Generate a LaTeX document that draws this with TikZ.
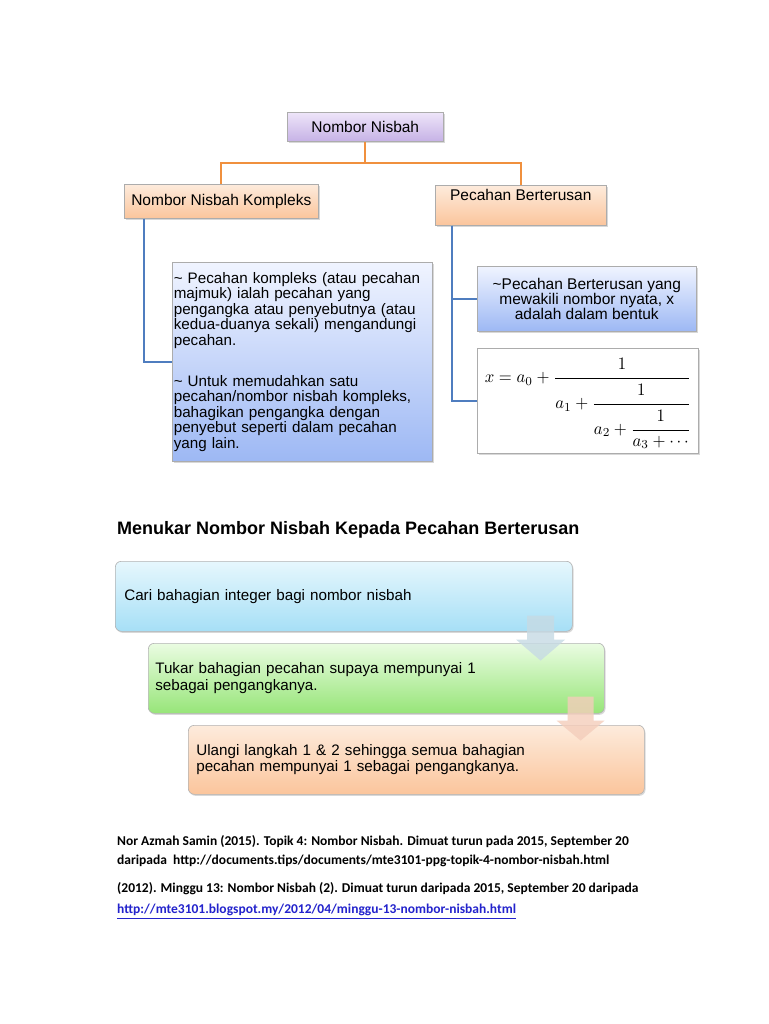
\documentclass[tikz,border=0pt]{standalone}
\usepackage{fontspec}
\usepackage{amsmath}
\usepackage{graphicx}
\setmainfont{Liberation Sans}
\newfontfamily\calib{Carlito}
\usetikzlibrary{shadows,calc}
\definecolor{purtop}{HTML}{EEE5F9}
\definecolor{purbot}{HTML}{C6B2E6}
\definecolor{ortop}{HTML}{FDEBDC}
\definecolor{orbot}{HTML}{FBC59C}
\definecolor{bltop}{HTML}{F0F4FF}
\definecolor{blbot}{HTML}{9DB8F4}
\definecolor{cytop}{HTML}{E6F7FD}
\definecolor{cybot}{HTML}{A6DFF6}
\definecolor{grtop}{HTML}{EAFCE2}
\definecolor{grbot}{HTML}{97E579}
\definecolor{lineor}{HTML}{F0903E}
\definecolor{linebl}{HTML}{4F7DBF}
\definecolor{arrbl}{HTML}{C6DAE4}
\definecolor{arror}{HTML}{F4CDBB}
\definecolor{linkbl}{HTML}{2323CC}
\begin{document}
\begin{tikzpicture}[x=1pt,y=-1pt,
  box/.style={draw=gray!65, line width=0.6pt, inner sep=0pt, anchor=north west,
    font=\fontsize{15.5}{17}\selectfont,
    drop shadow={shadow xshift=1.2pt, shadow yshift=-1.5pt, opacity=0.3}},
  purp/.style={top color=purtop, bottom color=purbot},
  orng/.style={top color=ortop, bottom color=orbot},
  blu/.style={top color=bltop, bottom color=blbot},
  stepbox/.style={draw=gray!60, line width=0.6pt, rounded corners=6pt, anchor=north west,
    inner ysep=0pt, align=left, font=\fontsize{15.2}{16.5}\selectfont,
    drop shadow={shadow xshift=1.2pt, shadow yshift=-1.5pt, opacity=0.3}},
  oline/.style={draw=lineor, line width=2pt},
  bline/.style={draw=linebl, line width=2pt},
  ref/.style={anchor=west, align=left, inner sep=0pt, font=\calib\bfseries\fontsize{13.5}{19}\selectfont}
]
\useasboundingbox[fill=white] (0,0) rectangle (768,1024);

% top tree
\node[box, purp, minimum width=156pt, minimum height=29pt] (nn) at (287,112) {Nombor Nisbah};
\node[box, orng, minimum width=194pt, minimum height=34pt] (nk) at (124,184) {Nombor Nisbah Kompleks};
\node[box, orng, minimum width=171pt, minimum height=40pt, text height=11pt, text depth=20pt] (pb) at (435,185) {Pecahan Berterusan};

\node[box, blu, minimum width=260pt, minimum height=199pt, text width=257pt, inner xsep=1.5pt, align=left,
  font=\fontsize{15.2}{15.5}\selectfont] (lt) at (172,262)
 {\textasciitilde{} Pecahan kompleks (atau pecahan\\ majmuk) ialah pecahan yang\\ pengangka atau penyebutnya (atau\\ kedua-duanya sekali) mengandungi\\ pecahan.\\[25.5pt]
  \textasciitilde{} Untuk memudahkan satu\\ pecahan/nombor nisbah kompleks,\\ bahagikan pengangka dengan\\ penyebut seperti dalam pecahan\\ yang lain.};

\node[box, blu, minimum width=219pt, minimum height=65pt, align=center,
  font=\fontsize{15.5}{15}\selectfont] (rt) at (477,266)
 {\textasciitilde Pecahan Berterusan yang\\ mewakili nombor nyata, x\\ adalah dalam bentuk};

\node[box, fill=white, minimum width=221pt, minimum height=105pt] (fm) at (477,348) {};
\node[inner sep=0pt] (eq) at ($(fm.center)+(-1,1)$)
 {\resizebox*{204pt}{94pt}{$x=a_0+\cfrac{1}{a_1+\cfrac{1}{a_2+\cfrac{1}{a_3+\dotsb}}}$}};

% connectors
\coordinate (j) at ($(nn.south)+(0,21)$);
\draw[oline] (nn.south) -- (j);
\draw[oline] (nk.north) |- (j) -| (pb.north);
\draw[bline] ($(nk.south west)+(20,0)$) |- (lt.west);
\draw[bline] ($(pb.south west)+(17,0)$) |- (fm.west);
\draw[bline] ($(pb.south west)+(17,0)$) |- (rt.west);

% heading
\node[anchor=west, inner sep=0pt, font=\bfseries\fontsize{18}{20}\selectfont] (hd) at (117,530)
 {Menukar Nombor Nisbah Kepada Pecahan Berterusan};

% steps
\node[stepbox, top color=cytop, bottom color=cybot, minimum height=70pt, inner xsep=9pt, text width=439pt] (s1) at (115,561)
 {Cari bahagian integer bagi nombor nisbah};
\node[stepbox, top color=grtop, bottom color=grbot, minimum height=70pt, inner xsep=7pt, text width=442pt] (s2) at (148,643)
 {Tukar bahagian pecahan supaya mempunyai 1\\ sebagai pengangkanya.};
\node[stepbox, orng, minimum height=69pt, inner xsep=8pt, text width=440pt] (s3) at (188,725)
 {Ulangi langkah 1 \& 2 sehingga semua bahagian\\ pecahan mempunyai 1 sebagai pengangkanya.};

% arrows between steps
\fill[arrbl, opacity=0.8] ($(s1.south east)+(-32,-16)$) ++(-13.5,0) -- ++(27,0) -- ++(0,24) -- ++(11,0)
  -- ++(-24.5,21) -- ++(-24.5,-21) -- ++(11,0) -- cycle;
\fill[arror, opacity=0.8] ($(s2.south east)+(-24,-17)$) ++(-13,0) -- ++(26,0) -- ++(0,24) -- ++(11,0)
  -- ++(-24,20) -- ++(-24,-20) -- ++(11,0) -- cycle;

% references
\node[ref] (r1) at (117,851)
 {Nor Azmah Samin (2015). Topik 4: Nombor Nisbah. Dimuat turun pada 2015, September 20\\
  daripada \ http://documents.tips/documents/mte3101-ppg-topik-4-nombor-nisbah.html};
\node[ref, font=\calib\bfseries\fontsize{13.5}{21}\selectfont] (r2) at (117,901)
 {(2012). Minggu 13: Nombor Nisbah (2). Dimuat turun daripada 2015, September 20 daripada\\
  \textcolor{linkbl}{\underline{http://mte3101.blogspot.my/2012/04/minggu-13-nombor-nisbah.html}}};
\end{tikzpicture}
\end{document}
